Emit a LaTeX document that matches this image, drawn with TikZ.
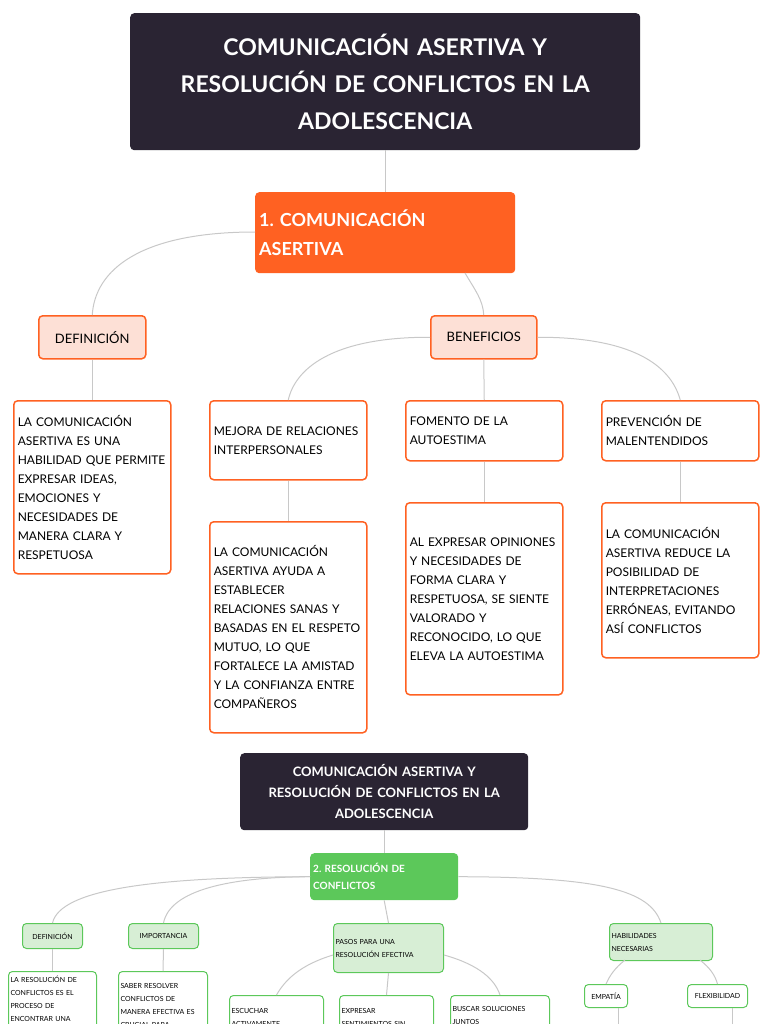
\documentclass[tikz,border=0pt]{standalone}
\usepackage{fontspec}
\setmainfont{Lato}
\frenchspacing
\definecolor{dark}{HTML}{2A2433}
\definecolor{orng}{HTML}{FF6122}
\definecolor{pinkf}{HTML}{FDE0D6}
\definecolor{grn}{HTML}{5CC85A}
\definecolor{grnf}{HTML}{D7EED5}
\definecolor{gline}{HTML}{C8C8C8}
\begin{document}
\begin{tikzpicture}[x=1pt,y=-1pt,
 box/.style={anchor=north west,rounded corners=4pt,inner sep=4pt,align=left},
 dark/.style={box,fill=dark,text=white,font=\bfseries},
 ob/.style={box,draw=orng,line width=1.5pt,fill=white,font=\fontsize{12}{19}\selectfont},
 obh/.style={ob,fill=pinkf,align=center,font=\fontsize{13}{16}\selectfont},
 gb/.style={box,draw=grn,line width=1pt,fill=white,inner sep=2pt,font=\fontsize{7}{13}\selectfont},
 gbh/.style={gb,fill=grnf},
 ln/.style={draw=gline,line width=1pt}]
\useasboundingbox (0,0) rectangle (768,1024);
\clip (0,0) rectangle (768,1024);
% top title
\node[dark,minimum width=510pt,minimum height=137pt,text width=500pt,align=center,font=\bfseries\fontsize{23}{37}\selectfont] (t1) at (130,13) {COMUNICACIÓN ASERTIVA Y\\RESOLUCIÓN DE CONFLICTOS EN LA\\ADOLESCENCIA};
\node[box,fill=orng,text=white,minimum width=260pt,minimum height=81pt,text width=252pt,font=\bfseries\fontsize{18}{29}\selectfont] (ca) at (255,192) {1. COMUNICACIÓN\\ASERTIVA};
\node[obh,minimum width=107pt,minimum height=43pt] (def) at (38,315) {DEFINICIÓN};
\node[obh,minimum width=106pt,minimum height=43pt] (ben) at (430,315) {BENEFICIOS};
\node[ob,minimum width=155pt,minimum height=173pt,text width=149pt] (defd) at (13,400) {LA COMUNICACIÓN\\ASERTIVA ES UNA\\HABILIDAD QUE PERMITE\\EXPRESAR IDEAS,\\EMOCIONES Y\\NECESIDADES DE\\MANERA CLARA Y\\RESPETUOSA};
\node[ob,minimum width=155pt,minimum height=79pt,text width=149pt] (mej) at (209,400) {MEJORA DE RELACIONES\\INTERPERSONALES};
\node[ob,minimum width=155pt,minimum height=60pt,text width=149pt] (fom) at (405,400) {FOMENTO DE LA\\AUTOESTIMA};
\node[ob,minimum width=155pt,minimum height=60pt,text width=149pt] (pre) at (601,400) {PREVENCIÓN DE\\MALENTENDIDOS};
\node[ob,minimum width=155pt,minimum height=211pt,text width=149pt] (mejd) at (209,521) {LA COMUNICACIÓN\\ASERTIVA AYUDA A\\ESTABLECER\\RELACIONES SANAS Y\\BASADAS EN EL RESPETO\\MUTUO, LO QUE\\FORTALECE LA AMISTAD\\Y LA CONFIANZA ENTRE\\COMPAÑEROS};
\node[ob,minimum width=155pt,minimum height=192pt,text width=149pt] (fomd) at (405,502) {AL EXPRESAR OPINIONES\\Y NECESIDADES DE\\FORMA CLARA Y\\RESPETUOSA, SE SIENTE\\VALORADO Y\\RECONOCIDO, LO QUE\\ELEVA LA AUTOESTIMA};
\node[ob,minimum width=155pt,minimum height=155pt,text width=149pt] (pred) at (601,502) {LA COMUNICACIÓN\\ASERTIVA REDUCE LA\\POSIBILIDAD DE\\INTERPRETACIONES\\ERRÓNEAS, EVITANDO\\ASÍ CONFLICTOS};
\path[ln] (t1.south) -- (ca.north);
\path[ln] (255,232) .. controls (140,232) and (95,270) .. (def.north);
\path[ln] (465,273) .. controls (475,290) and (483,300) .. (ben.north);
\path[ln] (def.south) -- (defd.north);
\path[ln] (ben.west) .. controls (330,337) and (295,370) .. (mej.north);
\path[ln] (ben.south) -- (fom.north);
\path[ln] (ben.east) .. controls (640,337) and (672,370) .. (pre.north);
\path[ln] (mej.south) -- (mejd.north);
\path[ln] (fom.south) -- (fomd.north);
\path[ln] (pre.south) -- (pred.north);
% second part
\node[dark,minimum width=288pt,minimum height=77pt,text width=280pt,align=center,font=\bfseries\fontsize{13}{21}\selectfont] (t2) at (240,753) {COMUNICACIÓN ASERTIVA Y\\RESOLUCIÓN DE CONFLICTOS EN LA\\ADOLESCENCIA};
\node[box,fill=grn,text=white,minimum width=148pt,minimum height=47pt,text width=142pt,inner sep=3pt,font=\bfseries\fontsize{10}{17}\selectfont] (rc) at (310,853) {2. RESOLUCIÓN DE\\CONFLICTOS};
\node[gbh,minimum width=60pt,minimum height=25pt,align=center] (d2) at (22,923) {DEFINICIÓN};
\node[gbh,minimum width=70pt,minimum height=25pt,align=center] (imp) at (128,923) {IMPORTANCIA};
\node[gbh,minimum width=110pt,minimum height=49pt,text width=106pt] (pas) at (333,923) {PASOS PARA UNA\\RESOLUCIÓN EFECTIVA};
\node[gbh,minimum width=103pt,minimum height=37pt,text width=99pt] (hab) at (609,923) {HABILIDADES\\NECESARIAS};
\node[gb,minimum width=88pt,minimum height=80pt,text width=84pt,anchor=north west] (d2d) at (8,971) {LA RESOLUCIÓN DE\\CONFLICTOS ES EL\\PROCESO DE\\ENCONTRAR UNA\\SOLUCIÓN SATISFACTORIA};
\node[gb,minimum width=89pt,minimum height=80pt,text width=85pt] (impd) at (118,971) {SABER RESOLVER\\CONFLICTOS DE\\MANERA EFECTIVA ES\\CRUCIAL PARA\\MANTENER UN};
\node[gb,minimum width=94pt,minimum height=44pt,text width=90pt] (p1) at (229,995) {ESCUCHAR\\ACTIVAMENTE};
\node[gb,minimum width=94pt,minimum height=44pt,text width=90pt] (p2) at (339,995) {EXPRESAR\\SENTIMIENTOS SIN};
\node[gb,minimum width=99pt,minimum height=40pt,text width=95pt] (p3) at (450,995) {BUSCAR SOLUCIONES\\JUNTOS};
\node[gb,minimum width=43pt,minimum height=23pt,align=center] (emp) at (584,984) {EMPATÍA};
\node[gb,minimum width=60pt,minimum height=23pt,align=center] (fle) at (687,984) {FLEXIBILIDAD};
\coordinate (e1) at (618,1030);
\coordinate (f1) at (732,1030);
\path[ln] (t2.south) -- (rc.north);
\path[ln] (rc.west) .. controls (150,877) and (60,890) .. (d2.north);
\path[ln] (rc.west) .. controls (230,877) and (170,890) .. (imp.north);
\path[ln] (rc.south) -- (pas.north);
\path[ln] (rc.east) .. controls (600,877) and (650,890) .. (hab.north);
\path[ln] (d2.south) -- (d2d.north);
\path[ln] (imp.south) -- (impd.north);
\path[ln] (pas.west|-0,955) .. controls (300,965) and (285,980) .. (p1.north);
\path[ln] (pas.south) -- (p2.north);
\path[ln] (pas.east|-0,955) .. controls (480,965) and (495,980) .. (p3.north);
\path[ln] (625,960) .. controls (615,968) and (610,975) .. (emp.north);
\path[ln] (700,960) .. controls (710,968) and (715,975) .. (fle.north);
\path[ln] (emp.south -| e1) -- (e1);
\path[ln] (fle.south -| f1) -- (f1);
\end{tikzpicture}
\end{document}
